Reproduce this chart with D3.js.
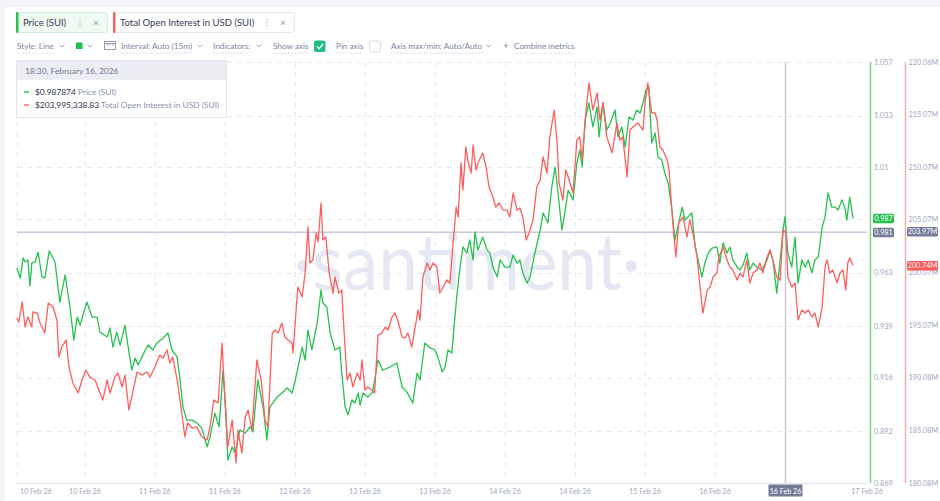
<!DOCTYPE html>
<html>
<head>
<meta charset="utf-8">
<script src="https://cdn.jsdelivr.net/npm/d3@7"></script>
<style>
  body { margin: 0; background: #f4f5f9; font-family: Lato, "Open Sans", sans-serif; }
  svg { display: block; }
</style>
</head>
<body>
<svg id="chart" width="940" height="501"></svg>
<script>
// all times are hours counted from 10 Feb 2026 00:00
var baseDate = new Date(2026, 1, 10, 0, 0);

// Price (SUI), USD
var priceSeries = [
[3.4,0.9650],[4.1,0.9605],[4.7,0.9695],[5.1,0.9677],[5.7,0.9686],[6.1,0.9570],[6.5,0.9672],[7.2,0.9677],[7.8,0.9721],[8.6,0.9610],[9.2,0.9605],[10.1,0.9726],[11.3,0.9677],[12.3,0.9498],[13.4,0.9619],[14.4,0.9476],[15.2,0.9328],[15.9,0.9431],[16.5,0.9395],[17.9,0.9498],[19.0,0.9431],[20.0,0.9431],[20.6,0.9364],[22.1,0.9342],[22.7,0.9382],[23.3,0.9297],[24.1,0.9364],[24.8,0.9306],[25.8,0.9395],[26.4,0.9306],[27.2,0.9194],[27.9,0.9248],[28.5,0.9217],[29.5,0.9262],[30.6,0.9306],[31.6,0.9284],[32.4,0.9315],[33.7,0.9337],[34.7,0.9360],[35.5,0.9284],[36.6,0.9253],[37.2,0.9150],[37.8,0.9029],[38.6,0.8971],[39.7,0.8971],[40.7,0.8958],[41.7,0.8935],[42.8,0.8851],[43.4,0.8895],[44.4,0.9002],[45.3,0.8940],[46.1,0.9194],[46.7,0.9002],[47.1,0.8793],[48.0,0.8851],[48.6,0.8824],[49.6,0.8927],[50.7,0.8913],[51.7,0.8940],[52.3,0.8918],[53.3,0.9150],[54.4,0.9029],[55.2,0.8882],[55.8,0.9029],[57.3,0.9074],[58.3,0.9092],[59.4,0.9114],[60.4,0.9092],[61.4,0.9181],
[62.5,0.9297],[63.1,0.9239],[63.7,0.9373],[64.5,0.9284],[65.6,0.9404],[66.4,0.9552],[66.8,0.9494],[67.6,0.9476],[68.3,0.9360],[69.3,0.9284],[70.3,0.9297],[70.7,0.9181],[71.4,0.9029],[72.0,0.8994],[72.8,0.9061],[73.4,0.9047],[74.1,0.9092],[74.5,0.9038],[75.1,0.9092],[76.1,0.9074],[77.1,0.9096],[78.2,0.9239],[79.2,0.9194],[80.7,0.9208],[82.1,0.9226],[83.2,0.9119],[84.2,0.9096],[85.4,0.9047],[86.3,0.9181],[86.9,0.9150],[87.9,0.9315],[89.0,0.9293],[90.0,0.9284],[90.6,0.9253],[91.5,0.9186],[92.1,0.9208],[92.7,0.9284],[93.5,0.9270],[94.2,0.9449],[94.6,0.9538],[95.2,0.9654],[95.8,0.9744],[96.6,0.9717],[97.2,0.9775],[97.9,0.9686],[98.3,0.9811],[98.9,0.9730],[99.9,0.9788],[100.8,0.9730],[101.4,0.9717],[102.0,0.9654],[102.9,0.9610],[103.5,0.9686],[104.5,0.9654],[105.5,0.9654],[106.2,0.9708],[107.0,0.9672],[107.6,0.9686],[108.2,0.9628],[109.1,0.9583],[109.7,0.9610],[110.7,0.9717],[111.8,0.9820],[112.4,0.9896],[113.4,0.9851],[114.2,1.0012],[114.9,1.0101],[115.5,0.9985],[116.3,0.9820],[116.9,0.9896],[117.6,0.9998],[118.6,0.9954],[119.4,1.0119],
[120.0,1.0177],[120.5,1.0101],[121.1,1.0311],[121.9,1.0387],[122.7,1.0280],[123.6,1.0369],[124.0,1.0235],[124.8,1.0387],[125.6,1.0266],[126.3,1.0298],[127.3,1.0356],[127.9,1.0235],[128.7,1.0280],[129.4,1.0190],[130.2,1.0324],[131.0,1.0311],[131.8,1.0356],[132.5,1.0342],[133.1,1.0387],[133.7,1.0445],[134.3,1.0458],[134.9,1.0208],[135.6,1.0253],[136.2,1.0146],[137.0,1.0132],[137.6,1.0074],[138.3,1.0030],[139.1,0.9909],[139.7,0.9775],[140.3,0.9833],[141.2,0.9922],[141.8,0.9864],[142.4,0.9878],[143.2,0.9896],[143.9,0.9744],[144.5,0.9686],[145.3,0.9610],[145.9,0.9672],[146.6,0.9717],[147.4,0.9739],[148.4,0.9744],[149.0,0.9672],[149.7,0.9762],[150.5,0.9717],[151.1,0.9744],[151.7,0.9686],[152.6,0.9654],[153.2,0.9641],[153.8,0.9663],[154.6,0.9717],[155.2,0.9641],[155.9,0.9672],[156.7,0.9654],[157.7,0.9641],[158.8,0.9686],[159.4,0.9730],[160.0,0.9686],[160.8,0.9538],[161.5,0.9686],[162.1,0.9820],[162.5,0.9879],[163.1,0.9717],[163.9,0.9654],[164.6,0.9788],[165.2,0.9583],[166.0,0.9686],[166.7,0.9654],[167.3,0.9686],[168.1,0.9628],[168.7,0.9686],[169.4,0.9699],[170.2,0.9833],[170.8,0.9878],[171.4,0.9985],[172.2,0.9922],[172.9,0.9922],[173.5,0.9909],[174.3,0.9954],[174.9,0.9922],[175.3,0.9864],[175.9,0.9967],[176.6,0.9872]
];

// Total Open Interest in USD (SUI), millions
var oiSeries = [
[3.4,195.75],[3.8,195.37],[4.5,197.27],[5.1,194.89],[5.7,195.84],[6.5,194.89],[6.7,196.32],[7.6,196.22],[8.2,195.27],[9.2,194.32],[9.9,197.17],[10.9,196.79],[11.7,195.56],[12.1,192.04],[12.7,192.99],[13.6,193.66],[14.2,191.09],[15.0,189.58],[16.1,188.63],[16.9,189.86],[17.7,190.81],[18.5,190.14],[19.6,189.86],[20.4,188.91],[21.2,187.96],[22.1,189.86],[22.7,188.63],[23.7,190.14],[24.3,190.52],[25.2,189.20],[25.8,190.33],[26.6,187.01],[27.5,188.91],[28.3,190.62],[29.3,190.33],[30.4,190.62],[31.0,190.14],[32.0,191.09],[33.0,192.23],[33.7,191.95],[34.5,192.71],[35.1,191.47],[35.7,192.04],[36.6,189.86],[37.4,187.30],[38.2,184.45],[38.8,185.78],[39.7,185.30],[40.7,185.40],[41.7,184.45],[42.8,184.16],[43.4,185.40],[44.2,187.96],[45.1,187.68],[45.9,193.37],[46.5,187.96],[47.1,183.50],[48.0,186.06],[48.8,181.98],[49.2,185.11],[50.0,182.93],[50.7,186.35],[51.3,187.01],[52.1,185.11],[53.1,191.76],[54.0,189.86],[54.8,186.06],[55.4,185.40],[56.3,194.32],[56.9,194.61],[57.5,194.32],[58.3,195.27],[58.9,193.94],[59.6,193.66],[60.4,193.37],[60.6,192.42],[61.2,196.22],[61.6,198.69],
[62.5,197.74],[63.1,200.02],[63.7,204.39],[64.1,200.97],[64.7,201.26],[65.4,203.82],[65.8,202.97],[66.4,206.67],[66.8,203.16],[67.4,203.44],[68.1,200.02],[68.9,198.12],[69.3,199.64],[70.1,198.12],[70.7,198.41],[71.2,194.32],[71.8,189.86],[72.4,190.52],[73.0,189.20],[73.9,190.52],[74.5,189.86],[74.9,191.76],[75.5,188.91],[76.1,189.20],[76.9,188.91],[77.5,188.63],[78.2,194.13],[79.0,194.32],[79.7,194.89],[80.3,194.61],[81.1,195.84],[81.7,196.22],[82.3,195.56],[83.2,193.94],[83.8,193.85],[84.4,194.32],[85.2,192.99],[85.9,194.89],[86.5,196.51],[86.9,195.56],[87.5,199.64],[88.4,200.97],[89.0,200.31],[89.6,200.97],[90.4,200.59],[91.0,198.12],[91.7,198.69],[92.5,199.36],[93.1,199.07],[93.7,202.49],[94.4,206.29],[94.8,205.34],[95.4,210.47],[95.8,207.90],[96.4,211.99],[96.8,210.75],[97.5,209.52],[97.9,212.18],[98.5,209.80],[98.9,210.47],[99.9,211.42],[100.6,210.09],[101.2,208.19],[102.0,207.24],[102.6,206.29],[103.3,206.67],[104.1,206.00],[104.9,206.00],[105.5,205.34],[106.2,207.62],[107.0,206.00],[107.6,206.19],[108.2,205.34],[108.9,203.16],[109.5,203.82],[110.3,205.06],[111.1,208.19],[111.8,208.85],[112.4,211.04],[113.2,209.52],[113.8,212.94],[114.7,215.50],[115.3,212.37],[115.7,208.57],[116.5,206.95],[117.1,209.80],[117.8,208.85],[118.6,207.62],[119.4,212.65],
[120.0,212.94],[120.5,210.75],[121.3,215.50],[121.9,218.07],[122.7,215.50],[123.6,217.12],[124.2,214.55],[124.8,216.17],[125.6,212.94],[126.7,211.42],[127.7,214.27],[128.3,212.65],[128.9,212.94],[129.8,209.14],[130.4,213.60],[131.0,213.89],[132.0,214.27],[133.1,213.60],[133.5,216.17],[134.1,218.07],[134.9,215.22],[135.6,215.22],[136.0,214.55],[136.6,211.99],[137.2,211.70],[138.1,210.75],[138.5,209.80],[139.1,205.72],[139.9,201.54],[140.5,204.77],[141.4,205.34],[142.2,203.44],[142.8,205.06],[143.6,203.44],[144.3,201.54],[144.9,198.69],[145.5,196.22],[146.4,198.41],[147.0,198.69],[147.6,199.64],[148.4,200.02],[148.8,201.54],[149.7,202.49],[150.5,201.26],[151.1,200.59],[151.7,200.31],[152.6,199.36],[153.2,200.02],[153.8,199.64],[154.6,201.26],[155.2,199.07],[155.9,200.02],[156.7,200.31],[157.3,200.97],[157.9,200.02],[158.8,201.54],[159.4,202.21],[160.0,201.26],[160.8,199.64],[161.5,199.36],[162.1,204.10],[162.5,204.00],[162.7,203.82],[163.1,199.64],[163.9,198.69],[164.6,199.07],[165.2,195.56],[166.0,196.51],[166.7,196.22],[167.3,196.51],[168.1,195.84],[168.7,196.22],[169.4,194.89],[170.2,196.79],[170.8,200.59],[171.2,201.26],[171.8,200.02],[172.4,200.31],[173.3,199.07],[173.9,200.02],[174.5,200.31],[175.1,198.41],[175.5,200.97],[175.9,201.45],[176.6,200.74]
];

var timeDomain = [3.43, 179.49];
var xTickHours = [17.5, 32, 46.5, 61, 75.5, 90, 104.5, 119, 133.5, 148];
var priceDomain = [0.869, 1.057];
var priceTicks = [0.869, 0.892, 0.916, 0.939, 0.963, 0.987, 1.01, 1.033, 1.057];
var oiDomain = [180.08, 220.06];
var oiTicks = [180.08, 185.08, 190.08, 195.07, 200.07, 205.07, 210.07, 215.07, 220.06];

// hovered point (tooltip + crosshair)
var hoverHour = 162.5;
var hoverPrice = 0.987874;
var hoverOi = 203995338.83;
var cursorPrice = 0.981;
var cursorOi = 203.97;

var metricNames = ["Price (SUI)", "Total Open Interest in USD (SUI)"];
var toolbarItems = ["Style: Line", "Interval: Auto (15m)", "Indicators:", "Show axis", "Pin axis", "Axis max/min: Auto/Auto", "Combine metrics"];

var green = "#26c14f", red = "#ff5d5d", slate = "#747c96", axisText = "#9ea6bd";

var svg = d3.select("#chart");
var plotL = 17, plotR = 867, plotT = 62, plotB = 483;

function toDate(h) { return new Date(baseDate.getTime() + h * 3600000); }

// squeeze a text a bit horizontally (the original UI font is narrower than Lato)
function narrow(t, k) {
  var w = t.node().getComputedTextLength();
  t.attr("textLength", w * k).attr("lengthAdjust", "spacingAndGlyphs");
  return t;
}

var x = d3.scaleTime().domain(timeDomain.map(toDate)).range([plotL, plotR]);
var yP = d3.scaleLinear().domain(priceDomain).range([plotB, plotT]);
var yO = d3.scaleLinear().domain(oiDomain).range([plotB, plotT]);

// page + card
svg.append("rect").attr("width", 940).attr("height", 501).attr("fill", "#f3f4f8");
svg.append("rect").attr("x", 5).attr("y", 7).attr("width", 940).attr("height", 501).attr("fill", "#fff");

// metric chips
function chip(x0, w, name, col, bg, border) {
  var g = svg.append("g");
  g.append("rect").attr("x", x0 + 0.5).attr("y", 12.5).attr("width", w).attr("height", 20).attr("rx", 3)
    .attr("fill", bg).attr("stroke", border);
  g.append("rect").attr("x", x0).attr("y", 12).attr("width", 2.5).attr("height", 21).attr("rx", 1).attr("fill", col);
  g.append("text").attr("x", x0 + 7).attr("y", 25.5).attr("font-size", 9.5).attr("fill", "#353b52").text(name);
  [-3, 0, 3].forEach(function(d) {
    g.append("circle").attr("cx", x0 + w - 27).attr("cy", 22.5 + d).attr("r", 0.7).attr("fill", "#a5abbf");
  });
  g.append("text").attr("x", x0 + w - 11).attr("y", 25.5).attr("text-anchor", "middle")
    .attr("font-size", 10).attr("fill", "#8d94aa").text("\u00d7");
}
chip(16, 91, metricNames[0], green, "#effaf2", "#cdeed6");
chip(113, 181, metricNames[1], red, "#fff", "#e6e8ef");

// toolbar
var tb = svg.append("g").attr("font-size", 8.2).attr("fill", "#7c86a0");
function tbText(x0, s) {
  var t = tb.append("text").attr("x", x0).attr("y", 48.5).text(s);
  var w = t.node().getComputedTextLength();
  tb.append("line").attr("x1", x0).attr("x2", x0 + w).attr("y1", 53).attr("y2", 53)
    .attr("stroke", "#cfd4e0").attr("stroke-dasharray", "1.5,1.5");
  return w;
}
function chevron(cx) {
  tb.append("path").attr("d", "M" + (cx - 2.5) + ",44.5L" + cx + ",47L" + (cx + 2.5) + ",44.5")
    .attr("fill", "none").attr("stroke", "#9aa2b8").attr("stroke-width", 0.9);
}
tbText(17, toolbarItems[0]); chevron(62);
tb.append("rect").attr("x", 76).attr("y", 42.5).attr("width", 6.5).attr("height", 6.5).attr("fill", "#21c04b");
chevron(90);
tb.append("rect").attr("x", 104.5).attr("y", 41.5).attr("width", 11).attr("height", 8).attr("fill", "none")
  .attr("stroke", "#8a93aa").attr("stroke-width", 0.9);
tb.append("line").attr("x1", 104.5).attr("x2", 115.5).attr("y1", 43.5).attr("y2", 43.5).attr("stroke", "#8a93aa").attr("stroke-width", 0.9);
[107, 110, 113].forEach(function(d) {
  tb.append("line").attr("x1", d).attr("x2", d).attr("y1", 43.5).attr("y2", 45.5).attr("stroke", "#8a93aa").attr("stroke-width", 0.9);
});
tbText(121, toolbarItems[1]); chevron(200);
tbText(213, toolbarItems[2]); chevron(259);
tbText(273, toolbarItems[3]);
tb.append("rect").attr("x", 314).attr("y", 40.5).attr("width", 11.5).attr("height", 11.5).attr("rx", 2).attr("fill", "#21bf86");
tb.append("path").attr("d", "M316.8,46.3L319.2,48.7L323.2,43.8").attr("fill", "none").attr("stroke", "#fff").attr("stroke-width", 1.3);
tbText(336, toolbarItems[4]);
tb.append("rect").attr("x", 369.5).attr("y", 41).attr("width", 11).attr("height", 11).attr("rx", 2)
  .attr("fill", "#fff").attr("stroke", "#d9dde7");
tbText(391, toolbarItems[5]); chevron(489);
tb.append("text").attr("x", 503).attr("y", 48.5).attr("font-size", 10).text("+");
tbText(514, toolbarItems[6]);

// gridlines
var grid = svg.append("g").attr("stroke", "#e7e9f1").attr("stroke-width", 1).attr("stroke-dasharray", "5,5");
priceTicks.forEach(function(d) {
  grid.append("line").attr("x1", plotL).attr("x2", plotR).attr("y1", Math.round(yP(d)) + 0.5).attr("y2", Math.round(yP(d)) + 0.5);
});
[timeDomain[0]].concat(xTickHours).forEach(function(h) {
  var xx = Math.round(x(toDate(h))) + 0.5;
  grid.append("line").attr("x1", xx).attr("x2", xx).attr("y1", plotT).attr("y2", plotB);
});
svg.append("line").attr("x1", plotL).attr("x2", plotR).attr("y1", plotB + 0.5).attr("y2", plotB + 0.5)
  .attr("stroke", "#e6e8f0").attr("stroke-width", 1.5);

// watermark
svg.append("text").attr("x", 467).attr("y", 290).attr("text-anchor", "middle")
  .attr("font-size", 80).attr("font-family", "Lato, sans-serif").attr("fill", "#e5e8f2")
  .attr("textLength", 347).attr("lengthAdjust", "spacingAndGlyphs")
  .text("\u00b7santiment\u00b7");

// crosshair
var hx = Math.round(x(toDate(hoverHour))) + 0.5;
svg.append("line").attr("x1", hx).attr("x2", hx).attr("y1", plotT).attr("y2", plotB)
  .attr("stroke", "#c7cbdc").attr("stroke-width", 1.5);
svg.append("line").attr("x1", plotL).attr("x2", plotR).attr("y1", yP(cursorPrice)).attr("y2", yP(cursorPrice))
  .attr("stroke", "#c7cbdc").attr("stroke-width", 1.5);

// series
var priceLine = d3.line().x(function(d) { return x(toDate(d[0])); }).y(function(d) { return yP(d[1]); });
var oiLine = d3.line().x(function(d) { return x(toDate(d[0])); }).y(function(d) { return yO(d[1]); });
svg.append("path").datum(priceSeries).attr("d", priceLine).attr("fill", "none")
  .attr("stroke", green).attr("stroke-width", 1.3).attr("stroke-linejoin", "round");
svg.append("path").datum(oiSeries).attr("d", oiLine).attr("fill", "none")
  .attr("stroke", red).attr("stroke-width", 1.3).attr("stroke-linejoin", "round");

// right axes
svg.append("line").attr("x1", 870.5).attr("x2", 870.5).attr("y1", plotT).attr("y2", plotB)
  .attr("stroke", "#79d77f").attr("stroke-width", 1.5);
svg.append("line").attr("x1", 905.5).attr("x2", 905.5).attr("y1", plotT).attr("y2", plotB)
  .attr("stroke", "#f8aaaa").attr("stroke-width", 1.5);
var lastPrice = priceSeries[priceSeries.length - 1][1];
var lastOi = oiSeries[oiSeries.length - 1][1];
var fmtP = function(d) { return d3.format(".3~f")(d); };
var fmtO = function(d) { return d3.format(".2f")(d) + "M"; };
var axG = svg.append("g").attr("font-size", 7.3).attr("fill", axisText);
priceTicks.forEach(function(d) {
  if (Math.abs(yP(d) - yP(lastPrice)) < 7) return;
  axG.append("text").attr("x", 874).attr("y", yP(d) + 2.6).text(fmtP(d));
});
oiTicks.forEach(function(d) {
  axG.append("text").attr("x", 908.5).attr("y", yO(d) + 2.6).text(fmtO(d));
});

function badge(x0, w, cy, fill, label) {
  svg.append("rect").attr("x", x0).attr("y", cy - 4.5).attr("width", w).attr("height", 9.5).attr("rx", 1.5).attr("fill", fill);
  svg.append("text").attr("x", x0 + w / 2).attr("y", cy + 2.7).attr("text-anchor", "middle")
    .attr("font-size", 7.3).attr("fill", "#fff").text(label);
}
badge(873, 21, yP(lastPrice), green, d3.format(".3f")(lastPrice));
badge(873, 21, yP(cursorPrice), slate, fmtP(cursorPrice));
badge(907, 31, yO(cursorOi), slate, fmtO(cursorOi));
badge(907, 31, yO(lastOi), "#ff5656", fmtO(lastOi));

// x axis labels
var fmtX = d3.timeFormat("%d %b %y");
var xl = svg.append("g").attr("font-size", 8.2).attr("fill", axisText);
narrow(xl.append("text").attr("x", plotL + 3).attr("y", 494).text(fmtX(toDate(timeDomain[0]))), 0.87);
xTickHours.forEach(function(h) {
  narrow(xl.append("text").attr("x", x(toDate(h))).attr("y", 494).attr("text-anchor", "middle").text(fmtX(toDate(h))), 0.87);
});
narrow(xl.append("text").attr("x", plotR).attr("y", 494).attr("text-anchor", "middle").text(fmtX(toDate(timeDomain[1]))), 0.87);
svg.append("rect").attr("x", hx - 17).attr("y", 484.5).attr("width", 34).attr("height", 12).attr("rx", 1).attr("fill", slate);
narrow(svg.append("text").attr("x", hx).attr("y", 494).attr("text-anchor", "middle").attr("font-size", 8.2)
  .attr("fill", "#fff").text(fmtX(toDate(hoverHour))), 0.87);

// tooltip
var tip = svg.append("g");
tip.append("rect").attr("x", 16.5).attr("y", 60.5).attr("width", 210).attr("height", 57).attr("fill", "#fff").attr("stroke", "#e3e6ee");
tip.append("rect").attr("x", 17).attr("y", 61).attr("width", 209).attr("height", 19).attr("fill", "#eceef4");
tip.append("text").attr("x", 25).attr("y", 73.5).attr("font-size", 8.4).attr("fill", "#6c7590")
  .text(d3.timeFormat("%H:%M, %B %-d, %Y")(toDate(hoverHour)));
function tipRow(y, col, val, name) {
  tip.append("line").attr("x1", 24).attr("x2", 29).attr("y1", y - 3).attr("y2", y - 3).attr("stroke", col).attr("stroke-width", 1.4);
  var t = tip.append("text").attr("x", 35).attr("y", y).attr("font-size", 8.4);
  t.append("tspan").attr("fill", "#2c3248").text(val);
  t.append("tspan").attr("fill", "#8a93ab").text(" " + name);
}
tipRow(95, green, "$" + d3.format(".6f")(hoverPrice), metricNames[0]);
tipRow(108, red, "$" + d3.format(",.2f")(hoverOi), metricNames[1]);
</script>
</body>
</html>
